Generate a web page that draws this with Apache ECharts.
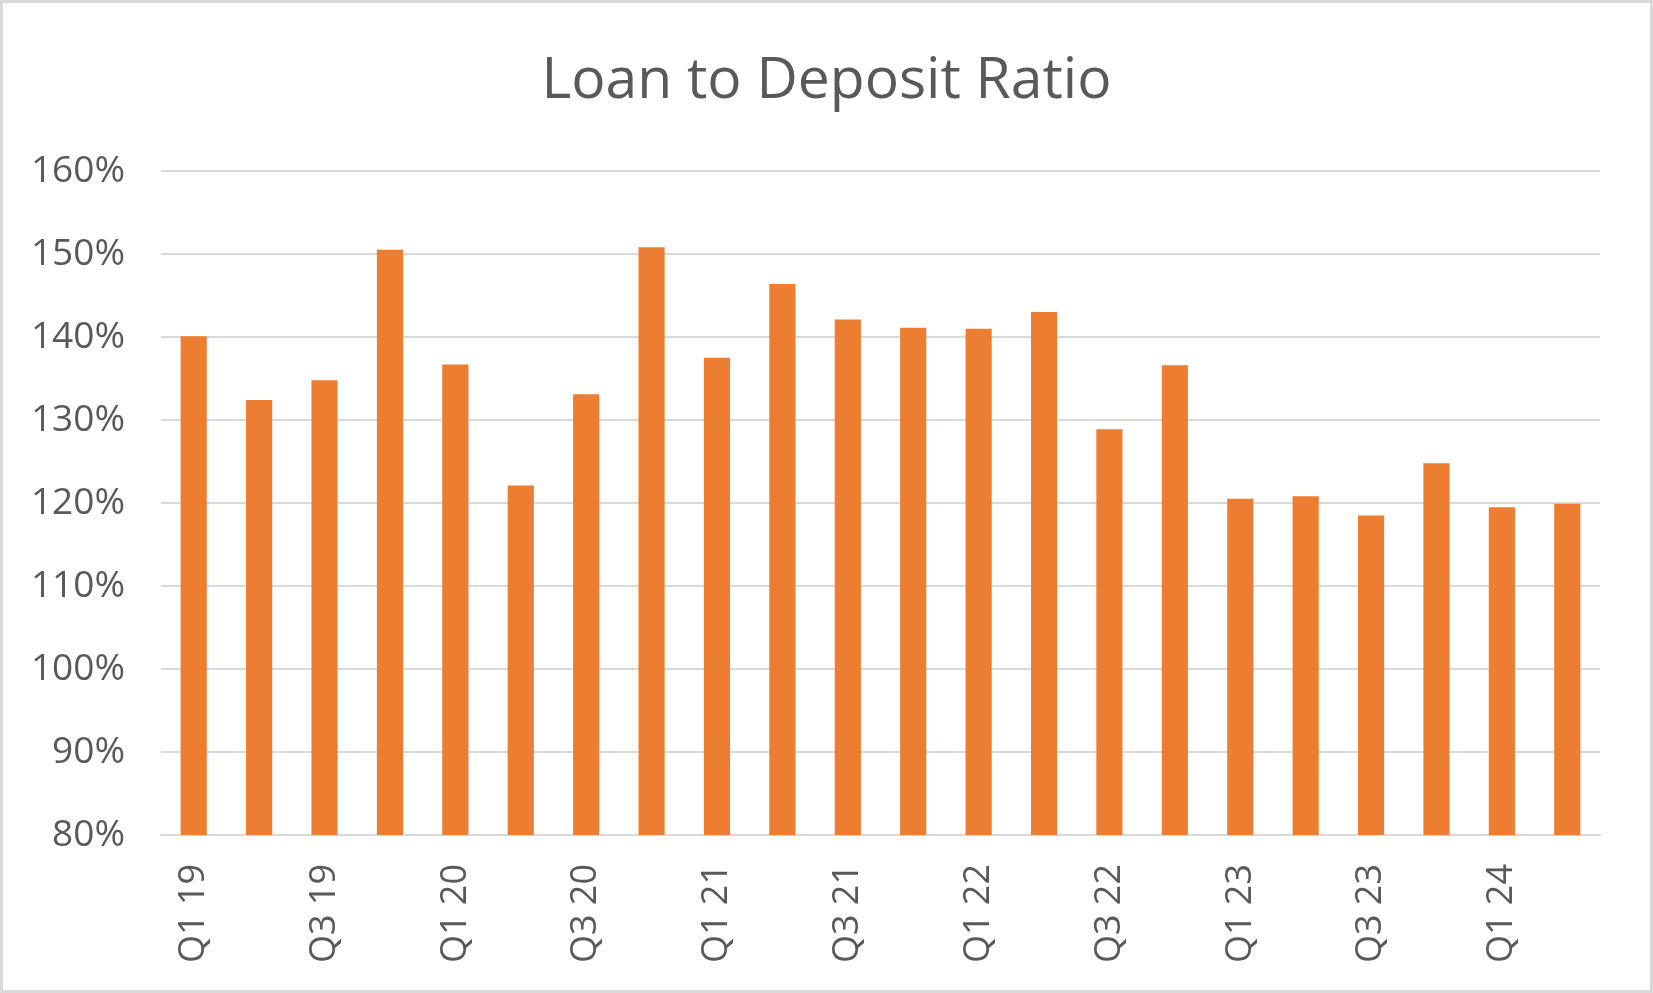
<!DOCTYPE html>
<html>
<head>
<meta charset="utf-8">
<script src="https://cdn.jsdelivr.net/npm/echarts@6/dist/echarts.min.js"></script>
<style>
  html, body { margin: 0; padding: 0; background: #fff; }
  #wrap { width: 1653px; height: 993px; box-sizing: border-box; border: 3px solid #d9d9d9; }
  #chart { width: 100%; height: 100%; }
</style>
</head>
<body>
<div id="wrap"><div id="chart"></div></div>
<script>
const title = 'Loan to Deposit Ratio';
const categories = ['Q1 19','Q2 19','Q3 19','Q4 19','Q1 20','Q2 20','Q3 20','Q4 20',
  'Q1 21','Q2 21','Q3 21','Q4 21','Q1 22','Q2 22','Q3 22','Q4 22',
  'Q1 23','Q2 23','Q3 23','Q4 23','Q1 24','Q2 24'];
const ratioValues = [140.1, 132.4, 134.8, 150.5, 136.7, 122.1, 133.1, 150.8,
  137.5, 146.4, 142.1, 141.1, 141.0, 143.0, 128.9, 136.6,
  120.5, 120.8, 118.5, 124.8, 119.5, 119.9];
const yMin = 80, yMax = 160, yStep = 10;

const chart = echarts.init(document.getElementById('chart'));
const font = '"Open Sans", "Noto Sans", sans-serif';
chart.setOption({
  animation: false,
  title: {
    text: title,
    left: 'center',
    top: 45,
    textStyle: { fontFamily: font, fontSize: 57, fontWeight: 'normal', color: '#595959' }
  },
  grid: { left: 158, right: 50, top: 168, bottom: 155, containLabel: false },
  xAxis: {
    type: 'category',
    data: categories,
    axisLine: { lineStyle: { color: '#d9d9d9', width: 2 } },
    axisTick: { show: false },
    axisLabel: {
      interval: 1,
      rotate: 90,
      margin: 29,
      fontFamily: font,
      fontSize: 36,
      color: '#595959'
    }
  },
  yAxis: {
    type: 'value',
    min: yMin,
    max: yMax,
    interval: yStep,
    axisLine: { show: false },
    axisTick: { show: false },
    splitLine: { lineStyle: { color: '#d9d9d9', width: 2 } },
    axisLabel: {
      formatter: v => v + '%',
      margin: 36,
      fontFamily: font,
      fontSize: 37,
      color: '#595959'
    }
  },
  series: [{
    type: 'bar',
    data: ratioValues,
    barCategoryGap: '60%',
    itemStyle: { color: '#ED7D31' }
  }]
});
</script>
</body>
</html>
